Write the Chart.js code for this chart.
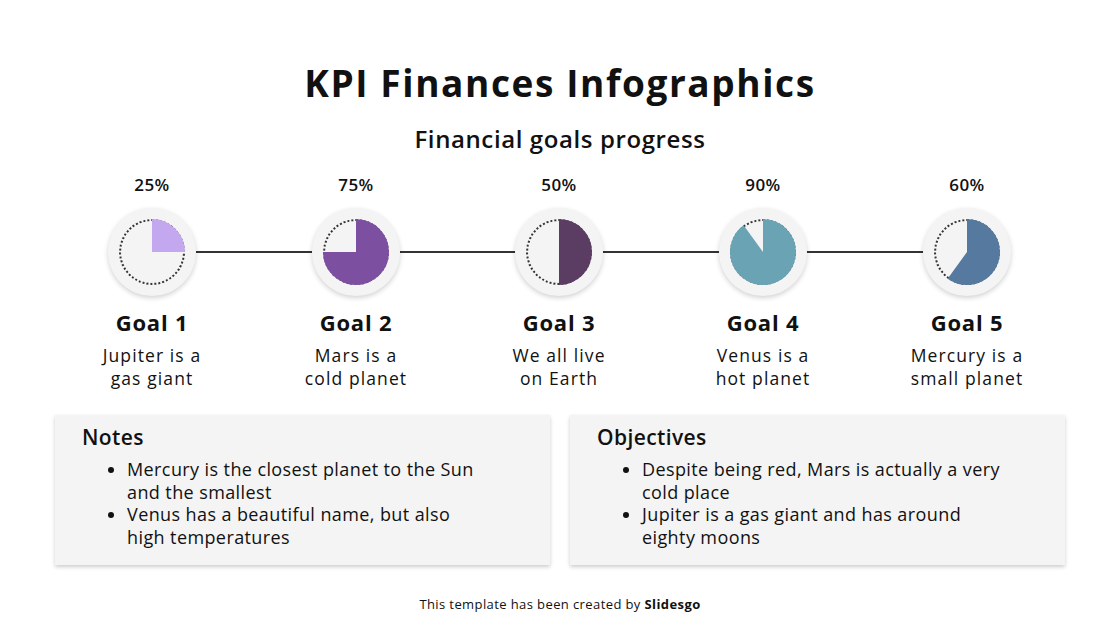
<!DOCTYPE html>
<html><head><meta charset="utf-8">
<script src="https://cdn.jsdelivr.net/npm/chart.js@4"></script>
<style>
body{margin:0;width:1120px;height:630px;background:#fff;font-family:"Open Sans",sans-serif;color:#111;position:relative;overflow:hidden;letter-spacing:0.4px}
.a{position:absolute}
.c{text-align:center;transform:translateX(-50%)}
.circ{position:absolute;width:88px;height:88px;border-radius:50%;background:#f4f4f5;box-shadow:0 2px 5px rgba(0,0,0,0.18)}
.dot{position:absolute;width:66px;height:66px;border-radius:50%;border:2px dotted #333;box-sizing:border-box}
.box{position:absolute;top:415px;width:495px;height:150px;background:#f4f4f4;box-shadow:0 2px 4px rgba(0,0,0,0.2)}
.box h3{margin:0;position:absolute;left:27px;top:8px;font-size:21px;font-weight:600}
.box ul{position:absolute;left:45px;top:43px;margin:0;padding:0 0 0 27px;font-size:18px;line-height:22.5px;width:360px}
.box li{margin:0}
</style></head><body>
<div class="a c" style="left:560px;top:57px;font-size:37px;font-weight:700;white-space:nowrap;letter-spacing:1.6px">KPI Finances Infographics</div>
<div class="a c" style="left:560px;top:122px;font-size:24px;font-weight:600;white-space:nowrap;letter-spacing:0.6px">Financial goals progress</div>
<div class="a" style="left:195px;top:251px;width:730px;height:2px;background:#333"></div>
<div id="goals"></div>
<div class="box" style="left:55px"><h3>Notes</h3><ul><li>Mercury is the closest planet to the Sun and the smallest</li><li>Venus has a beautiful name, but also high temperatures</li></ul></div>
<div class="box" style="left:570px"><h3>Objectives</h3><ul><li>Despite being red, Mars is actually a very cold place</li><li>Jupiter is a gas giant and has around eighty moons</li></ul></div>
<div class="a c" style="left:560px;top:595px;font-size:13px;white-space:nowrap">This template has been created by <b>Slidesgo</b></div>
<script>
const goals=["Goal 1","Goal 2","Goal 3","Goal 4","Goal 5"];
const percents=[25,75,50,90,60];
const descriptions=[["Jupiter is a","gas giant"],["Mars is a","cold planet"],["We all live","on Earth"],["Venus is a","hot planet"],["Mercury is a","small planet"]];
const colors=["#c3a7ef","#7d4fa1","#5b3d63","#69a3b4","#55799f"];
const centers=[152,356,559,763,967];
const cy=252;
const root=document.getElementById('goals');
goals.forEach((g,i)=>{
  const x=centers[i];
  const d='font-size:17.5px;line-height:18px;white-space:nowrap;letter-spacing:1.1px';
  root.insertAdjacentHTML('beforeend',
   `<div class="a c" style="left:${x}px;top:173px;font-size:17px;font-weight:600">${percents[i]}%</div>
    <div class="circ" style="left:${x-44}px;top:${cy-44}px"></div>
    <div class="dot" style="left:${x-33}px;top:${cy-33}px"></div>
    <canvas id="p${i}" class="a" style="left:${x-34}px;top:${cy-34}px;width:68px;height:68px" width="68" height="68"></canvas>
    <div class="a c" style="left:${x}px;top:307px;font-size:22px;font-weight:700;white-space:nowrap;letter-spacing:0.8px">${g}</div>
    <div class="a c" style="left:${x}px;top:346px;${d}">${descriptions[i][0]}</div>
    <div class="a c" style="left:${x}px;top:369px;${d}">${descriptions[i][1]}</div>`);
});
goals.forEach((g,i)=>{
  new Chart(document.getElementById('p'+i),{type:'pie',
   data:{labels:['done','rest'],datasets:[{data:[percents[i],100-percents[i]],backgroundColor:[colors[i],'rgba(0,0,0,0)'],borderWidth:0}]},
   options:{responsive:false,animation:false,events:[],layout:{padding:1},plugins:{legend:{display:false},tooltip:{enabled:false}}}});
});
</script>
</body></html>
